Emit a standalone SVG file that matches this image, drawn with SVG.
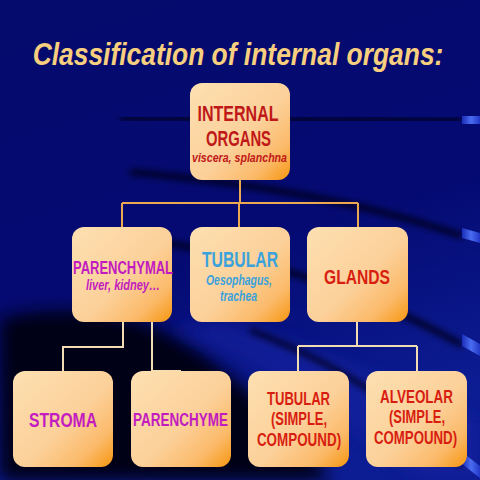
<svg xmlns="http://www.w3.org/2000/svg" width="480" height="480" viewBox="0 0 480 480">
<defs>
<linearGradient id="bg" x1="0" y1="0" x2="0.3" y2="1">
<stop offset="0" stop-color="#050b6c"/>
<stop offset="0.6" stop-color="#040a72"/>
<stop offset="1" stop-color="#0c1c92"/>
</linearGradient>
<linearGradient id="box" x1="0" y1="0" x2="1" y2="1">
<stop offset="0" stop-color="#fde0b2"/>
<stop offset="0.55" stop-color="#fcd099"/>
<stop offset="0.8" stop-color="#fbba6a"/>
<stop offset="1" stop-color="#f6960f"/>
</linearGradient>
<linearGradient id="bar" x1="0" y1="0" x2="1" y2="0">
<stop offset="0" stop-color="#1a2cb8"/>
<stop offset="0.5" stop-color="#4a6cf0"/>
<stop offset="1" stop-color="#2238c8"/>
</linearGradient>
<filter id="blur" x="-10%" y="-50%" width="120%" height="200%"><feGaussianBlur stdDeviation="3"/></filter>
<filter id="blur2"><feGaussianBlur stdDeviation="8"/></filter>
</defs>
<style>
.box{fill:url(#box);}
.t{font-family:"Liberation Sans",Arial,sans-serif;font-weight:bold;text-anchor:middle;}
.i{font-style:italic;}
.mag{fill:#c21cc0;}
.red{fill:#d81e10;}
.dred{fill:#c01818;}
.blue{fill:#3aa2dc;}
.con{fill:none;stroke-width:2;}
</style>
<rect width="480" height="480" fill="url(#bg)"/>
<g id="background">
<path d="M0 318 Q120 290 210 360 Q290 420 330 480 L0 480 Z" fill="#000318" filter="url(#blur2)"/>
<path d="M170 330 Q300 380 420 480 L480 480 L480 420 Q350 360 220 320 Z" fill="#1424a0" opacity="0.6" filter="url(#blur2)"/>
<path d="M120 118 L462 120" stroke="#000420" stroke-width="6" fill="none" filter="url(#blur)"/>
<path d="M130 172 Q330 190 462 236" stroke="#000420" stroke-width="6" fill="none" filter="url(#blur)"/>
<path d="M150 240 Q330 270 462 345" stroke="#000420" stroke-width="6" fill="none" filter="url(#blur)"/>
<path d="M250 330 Q380 380 462 465" stroke="#000420" stroke-width="5" fill="none" filter="url(#blur)"/>
<rect x="462" y="116" width="18" height="8" fill="url(#bar)"/>
<path d="M462 228 L480 233 L480 243 L462 238 Z" fill="url(#bar)"/>
<path d="M462 334 L480 344 L480 356 L462 346 Z" fill="url(#bar)"/>
<path d="M462 452 L480 466 L480 478 L462 464 Z" fill="url(#bar)"/>
</g>
<text class="t i" transform="translate(238,65) scale(0.68,1)" x="0" y="0" font-size="31" fill="#f7cf7e" textLength="604" lengthAdjust="spacingAndGlyphs">Classification of internal organs:</text>
<g id="connectors">
<path class="con" stroke="#eaa850" d="M240 180 V203 M122 203 H358 M122 203 V227 M239 203 V227 M358 203 V227"/>
<path class="con" stroke="#f2dcb4" d="M123 322 V347 H63 V371 M152 322 V371 H181"/>
<path class="con" stroke="#f2dcb4" d="M357 322 V346 M298 346 H417 M298 346 V371 M417 346 V371"/>
</g>
<g id="internal-organs">
<rect class="box" x="190" y="83" width="100" height="97" rx="12"/>
<text class="t dred" x="238" y="121" font-size="22" textLength="81" lengthAdjust="spacingAndGlyphs">INTERNAL</text>
<text class="t dred" x="238.5" y="146" font-size="22" textLength="65" lengthAdjust="spacingAndGlyphs">ORGANS</text>
<text class="t i dred" x="239.5" y="162" font-size="12" textLength="95" lengthAdjust="spacingAndGlyphs">viscera, splanchna</text>
</g>
<g id="parenchymal">
<rect class="box" x="72" y="227" width="100" height="95" rx="12"/>
<text class="t mag" x="123" y="274" font-size="19" textLength="100" lengthAdjust="spacingAndGlyphs">PARENCHYMAL</text>
<text class="t i mag" x="123" y="290" font-size="14" textLength="74" lengthAdjust="spacingAndGlyphs">liver, kidney…</text>
</g>
<g id="tubular">
<rect class="box" x="190" y="227" width="100" height="95" rx="12"/>
<text class="t blue" x="240" y="267" font-size="22" textLength="76" lengthAdjust="spacingAndGlyphs">TUBULAR</text>
<text class="t i blue" x="239" y="285" font-size="14" textLength="66" lengthAdjust="spacingAndGlyphs">Oesophagus,</text>
<text class="t i blue" x="238.5" y="301" font-size="14" textLength="37" lengthAdjust="spacingAndGlyphs">trachea</text>
</g>
<g id="glands">
<rect class="box" x="307" y="227" width="101" height="95" rx="12"/>
<text class="t red" x="357" y="284" font-size="21" textLength="66" lengthAdjust="spacingAndGlyphs">GLANDS</text>
</g>
<g id="stroma">
<rect class="box" x="13" y="371" width="100" height="96" rx="12"/>
<text class="t mag" x="63" y="427" font-size="20" textLength="68" lengthAdjust="spacingAndGlyphs">STROMA</text>
</g>
<g id="parenchyme">
<rect class="box" x="131" y="371" width="100" height="96" rx="12"/>
<text class="t mag" x="180.5" y="426" font-size="19" textLength="95" lengthAdjust="spacingAndGlyphs">PARENCHYME</text>
</g>
<g id="tubular-glands">
<rect class="box" x="248" y="371" width="101" height="96" rx="12"/>
<text class="t red" x="298.5" y="405" font-size="18" textLength="63" lengthAdjust="spacingAndGlyphs">TUBULAR</text>
<text class="t red" x="299" y="425" font-size="18" textLength="56" lengthAdjust="spacingAndGlyphs">(SIMPLE,</text>
<text class="t red" transform="translate(299,446) scale(0.78,1)" x="0" y="0" font-size="18" textLength="108" lengthAdjust="spacingAndGlyphs">COMPOUND)</text>
</g>
<g id="alveolar-glands">
<rect class="box" x="366" y="371" width="101" height="96" rx="12"/>
<text class="t red" x="416.5" y="403" font-size="18" textLength="73" lengthAdjust="spacingAndGlyphs">ALVEOLAR</text>
<text class="t red" x="417" y="423" font-size="18" textLength="56" lengthAdjust="spacingAndGlyphs">(SIMPLE,</text>
<text class="t red" transform="translate(415.5,444) scale(0.77,1)" x="0" y="0" font-size="18" textLength="108" lengthAdjust="spacingAndGlyphs">COMPOUND)</text>
</g>
</svg>
